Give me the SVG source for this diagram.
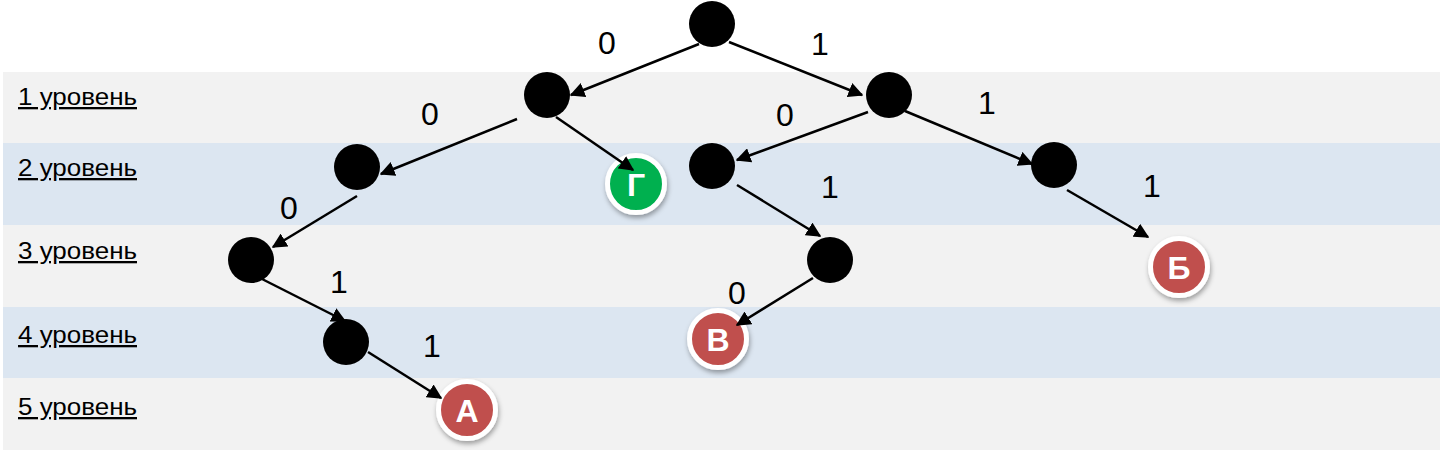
<svg xmlns="http://www.w3.org/2000/svg" width="1440" height="452" viewBox="0 0 1440 452">
<defs>
<marker id="ah" viewBox="0 0 10 10" refX="9" refY="5" markerWidth="6" markerHeight="6" markerUnits="strokeWidth" orient="auto"><path d="M0,0 L10,5 L0,10 z" fill="#000"/></marker>
<filter id="sh" x="-30%" y="-30%" width="160%" height="170%"><feDropShadow dx="1" dy="3" stdDeviation="2.5" flood-color="#000" flood-opacity="0.35"/></filter>
<style>
.band1{fill:#f2f2f2}.band2{fill:#dce6f1}
.lvl{font-family:"Liberation Sans",Arial,sans-serif;font-size:23px;text-decoration:underline;fill:#000}
.bit{font-family:"Liberation Sans",Arial,sans-serif;font-size:32px;fill:#000;text-anchor:middle}
.dot{fill:#000}
.leaf{stroke:#fff;stroke-width:5;filter:url(#sh)}
.red{fill:#c0504d}.green{fill:#00b050}
.ll{font-family:"Liberation Sans",Arial,sans-serif;font-size:32px;font-weight:bold;fill:#fff;text-anchor:middle}
.edge{stroke:#000;stroke-width:2.5;fill:none;marker-end:url(#ah)}
</style>
</defs>
<g id="bands">
<rect class="band1" x="3" y="72" width="1437" height="71"/>
<rect class="band2" x="3" y="143" width="1437" height="82"/>
<rect class="band1" x="3" y="225" width="1437" height="82"/>
<rect class="band2" x="3" y="307" width="1437" height="71"/>
<rect class="band1" x="3" y="378" width="1437" height="72"/>
</g>
<g id="levels">
<text class="lvl" x="18" y="105" textLength="119" lengthAdjust="spacingAndGlyphs">1 уровень</text>
<text class="lvl" x="18" y="176" textLength="119" lengthAdjust="spacingAndGlyphs">2 уровень</text>
<text class="lvl" x="18" y="259" textLength="119" lengthAdjust="spacingAndGlyphs">3 уровень</text>
<text class="lvl" x="18" y="343" textLength="119" lengthAdjust="spacingAndGlyphs">4 уровень</text>
<text class="lvl" x="18" y="415" textLength="119" lengthAdjust="spacingAndGlyphs">5 уровень</text>
</g>
<g id="bits">
<text class="bit" x="607" y="54">0</text>
<text class="bit" x="820" y="55">1</text>
<text class="bit" x="430" y="125">0</text>
<text class="bit" x="785" y="126">0</text>
<text class="bit" x="987" y="114">1</text>
<text class="bit" x="289" y="219">0</text>
<text class="bit" x="830" y="198">1</text>
<text class="bit" x="1152" y="197">1</text>
<text class="bit" x="339" y="293">1</text>
<text class="bit" x="737" y="304">0</text>
<text class="bit" x="432" y="357">1</text>
</g>
<g id="n-root"><circle class="dot" cx="712" cy="24" r="23"/></g>
<g id="n-0"><circle class="dot" cx="547" cy="95" r="23"/></g>
<g id="n-1"><circle class="dot" cx="889" cy="95" r="23"/></g>
<g id="n-00"><circle class="dot" cx="357" cy="167" r="23"/></g>
<g id="n-G"><circle class="leaf green" cx="636" cy="184" r="28.5"/><text class="ll" x="636" y="196">Г</text></g>
<g id="n-10"><circle class="dot" cx="712" cy="166" r="23"/></g>
<g id="n-11"><circle class="dot" cx="1054" cy="165" r="23"/></g>
<g id="n-000"><circle class="dot" cx="251" cy="260" r="23"/></g>
<g id="n-101"><circle class="dot" cx="830" cy="260" r="23"/></g>
<g id="n-B6"><circle class="leaf red" cx="1179" cy="267" r="28.5"/><text class="ll" x="1179" y="279">Б</text></g>
<g id="n-0001"><circle class="dot" cx="346" cy="342" r="23"/></g>
<g id="n-V"><circle class="leaf red" cx="718" cy="339" r="28.5"/><text class="ll" x="718" y="351">В</text></g>
<g id="n-A"><circle class="leaf red" cx="467" cy="410" r="28.5"/><text class="ll" x="467" y="422">А</text></g>
<g id="connectors">
<line class="edge" x1="699" y1="44" x2="571" y2="95"/>
<line class="edge" x1="729" y1="42" x2="862" y2="95"/>
<line class="edge" x1="517" y1="119" x2="381" y2="174"/>
<line class="edge" x1="556" y1="117" x2="633" y2="170"/>
<line class="edge" x1="868" y1="112" x2="737" y2="160"/>
<line class="edge" x1="905" y1="111" x2="1032" y2="164"/>
<line class="edge" x1="357" y1="196" x2="273" y2="247"/>
<line class="edge" x1="737" y1="185" x2="820" y2="236"/>
<line class="edge" x1="1067" y1="190" x2="1148" y2="237"/>
<line class="edge" x1="262" y1="279" x2="345" y2="321"/>
<line class="edge" x1="813" y1="278" x2="737" y2="325"/>
<line class="edge" x1="368" y1="352" x2="441" y2="398"/>
</g>
</svg>
